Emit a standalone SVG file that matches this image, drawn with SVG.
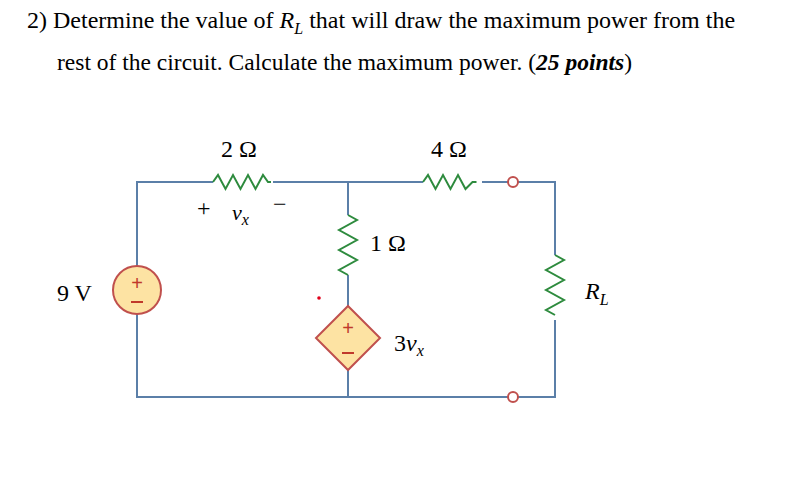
<svg xmlns="http://www.w3.org/2000/svg" width="798" height="491" viewBox="0 0 798 491">
<style>
.w{stroke:#5b7fa8;stroke-width:2;fill:none}
.r{stroke:#2e8b3e;stroke-width:2;fill:none;stroke-linejoin:miter}
.s{fill:#fde3a3;stroke:#c0504d;stroke-width:2}
.t{font-family:"Liberation Serif",serif;fill:#000}
.p{font-family:"Liberation Sans",sans-serif;fill:#c0392b}
</style>
<rect width="798" height="491" fill="#fff"/>
<text class="t" x="27" y="28" font-size="24">2) Determine the value of <tspan font-style="italic">R</tspan><tspan font-style="italic" font-size="16" dy="6">L</tspan><tspan dy="-6"> that will draw the maximum power from the</tspan></text>
<text class="t" x="57" y="70" font-size="23.5">rest of the circuit. Calculate the maximum power. (<tspan font-weight="bold" font-style="italic">25 points</tspan>)</text>
<g id="wires" class="w">
<path d="M137,266 V182 H213 M273,182 H423 M482,182 H508 M518,182 H555 V255 M555,320 V397 H518 M508,397 H137 V314"/>
<path d="M348,182 V215 M348,275 V306 M348,370 V397"/>
</g>
<g id="R2"><path class="r" d="M213,182 l5,-7 l7.5,14 l7.5,-14 l7.5,14 l7.5,-14 l7.5,14 l7.5,-14 l5,7 h3"/><text class="t" x="221" y="157" font-size="24">2 Ω</text></g>
<g id="R4"><path class="r" d="M423,182 l5,-7 l7.5,14 l7.5,-14 l7.5,14 l7.5,-14 l7.5,14 l7,-7 h4"/><text class="t" x="431" y="157" font-size="24">4 Ω</text></g>
<g id="vx"><text class="t" x="197" y="216" font-size="24">+</text><text class="t" x="232" y="220" font-size="22" font-style="italic">v<tspan font-size="16" dy="5">x</tspan></text><text class="t" x="273" y="212" font-size="24">−</text></g>
<g id="R1"><path class="r" d="M348,215 l9,5 l-18,10 l18,10 l-18,10 l18,10 l-18,10 l9,5"/><text class="t" x="370" y="251" font-size="24">1 Ω</text></g>
<g id="RL"><path class="r" d="M555,255 l9,5 l-18,10 l18,10 l-18,10 l18,10 l-18,10 l9,5"/><text class="t" x="585" y="299" font-size="24" font-style="italic">R<tspan font-size="16" dy="6">L</tspan></text></g>
<g id="V9"><circle class="s" cx="137" cy="290" r="24"/><text class="p" x="137" y="290" font-size="20" text-anchor="middle">+</text><path d="M131,302 h12" stroke="#c0392b" stroke-width="2"/><text class="t" x="57" y="301" font-size="24">9 V</text></g>
<g id="dep"><path class="s" d="M348,306 l32,32 l-32,32 l-32,-32 z"/><text class="p" x="348" y="335" font-size="20" text-anchor="middle">+</text><path d="M342,353 h12" stroke="#c0392b" stroke-width="2"/><text class="t" x="394" y="351" font-size="24">3<tspan font-style="italic">v</tspan><tspan font-style="italic" font-size="16" dy="5">x</tspan></text></g>
<g id="terminals"><circle cx="513" cy="182" r="5" fill="#fff" stroke="#c0504d" stroke-width="2"/><circle cx="513" cy="397" r="5" fill="#fff" stroke="#c0504d" stroke-width="2"/></g>
<circle cx="319" cy="298" r="1.8" fill="#e0001a"/>
</svg>
